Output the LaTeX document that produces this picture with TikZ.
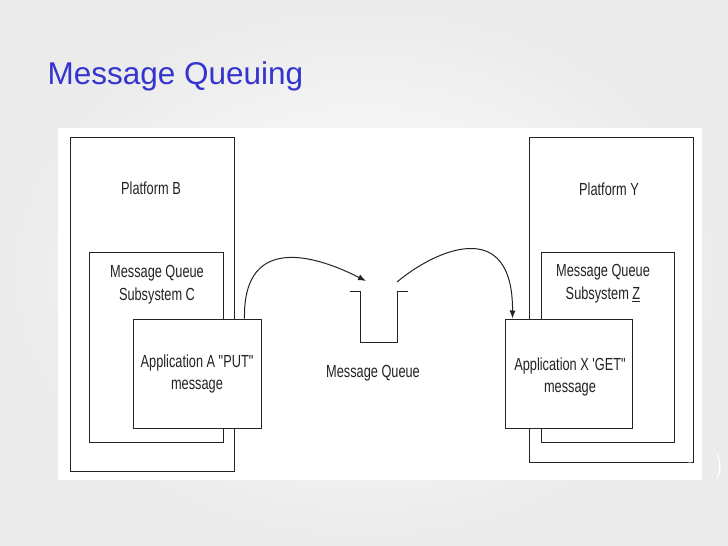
\documentclass[tikz,border=0pt]{standalone}
\usepackage{fontspec}
\setmainfont{Liberation Sans}
\newfontfamily\diagfont{Liberation Sans}
\usetikzlibrary{arrows.meta}

\definecolor{titleblue}{RGB}{52,52,206}
\definecolor{inkgray}{RGB}{35,35,35}

\tikzstyle{box} = [rectangle,draw=inkgray,line width=1pt,fill=white,inner sep=0pt]
\tikzstyle{lbl} = [text=inkgray,align=center,font=\diagfont\fontsize{17.5}{23}\selectfont,xscale=0.73,transform shape]
\tikzstyle{flow} = [draw=inkgray,line width=1pt,-{Latex[length=8pt,width=6pt]}]

\begin{document}
\begin{tikzpicture}[x=1pt,y=-1pt]
	\useasboundingbox (0,0) rectangle (728,546);
	\shade[inner color=white,outer color=gray!16] (0,0) rectangle (728,546);
	\fill[white] (58,128) rectangle (702,480);
	
	\node[anchor=base west,text=titleblue,font=\fontsize{31.5}{34}\selectfont] (title) at (44,84) {Message Queuing};
	
	\node[box,minimum width=164,minimum height=334] (platB) at (152,304) {};
	\node[box,minimum width=134,minimum height=190] (subC) at (156,347) {};
	\node[box,minimum width=128,minimum height=109] (appA) at (197,373.5) {};
	
	\node[box,minimum width=164,minimum height=325] (platY) at (611,299.5) {};
	\node[box,minimum width=133,minimum height=190] (subZ) at (607.5,347) {};
	\node[box,minimum width=127,minimum height=109] (appX) at (568.5,373.5) {};
	
	\node[lbl] (platBtxt) at (151,188) {Platform B};
	\node[lbl] (subCtxt) at (157,285) {Message Queue\\Subsystem C};
	\node[lbl,font=\diagfont\fontsize{17.5}{22}\selectfont] (appAtxt) at (197,374) {Application A "PUT"\\message};
	
	\node[lbl] (platYtxt) at (609,189) {Platform Y};
	\node[lbl] (subZtxt) at (603,284) {Message Queue\\Subsystem \underline{Z}};
	\node[lbl,font=\diagfont\fontsize{17.5}{22}\selectfont] (appXtxt) at (570,377) {Application X 'GET"\\message};
	
	% the queue
	\draw[draw=inkgray,line width=1pt] (350,291.7) -- (360.7,291.7) -- (360.7,342.7) -- (397.3,342.7) -- (397.3,291.7) -- (408.3,291.7);
	\node[lbl] (mqtxt) at (373,373) {Message Queue};
	\coordinate (qin) at (366,281);
	\coordinate (qout) at (397,282);
	
	\draw[flow] ([xshift=-17]appA.north east) .. controls (243,240) and (305,250) .. (qin);
	\draw[flow] (qout) .. controls (435,250) and (513,215) .. ([xshift=8]appX.north west);
	
	\node[text=white,font=\fontsize{15}{15}\selectfont] (pgnum) at (694,468) {31};
	\node[text=white,font=\fontsize{26}{26}\selectfont,xscale=0.6,transform shape] (pgbr) at (719,467) {)};
\end{tikzpicture}
\end{document}
